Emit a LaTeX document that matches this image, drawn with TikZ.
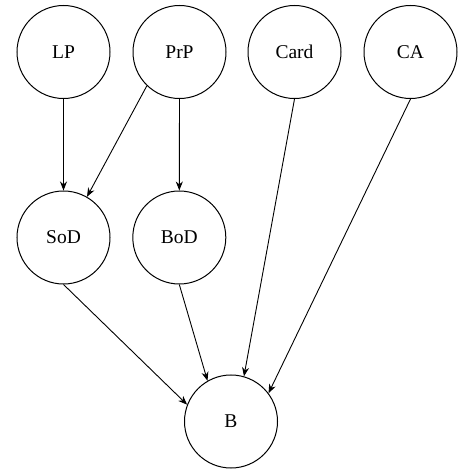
\documentclass[tikz,border=0pt]{standalone}
\usepackage{fontspec}
\setmainfont{Liberation Serif}
\usetikzlibrary{arrows.meta}
\begin{document}
\begin{tikzpicture}[x=1pt,y=1pt,
  var/.style={circle,draw,line width=1pt,minimum size=93pt,inner sep=0pt,font=\fontsize{19.5}{22}\selectfont},
  edge/.style={line width=0.9pt,-{Stealth[length=9pt,width=7pt]}}]
\useasboundingbox (0,0) rectangle (474,474);
\node[var] (LP) at (63.5,422) {LP};
\node[var] (PrP) at (179.5,422) {PrP};
\node[var] (Card) at (294.5,422) {Card};
\node[var] (CA) at (410.5,422) {CA};
\node[var] (SoD) at (63.5,236.5) {SoD};
\node[var] (BoD) at (179.3,236.5) {BoD};
\node[var] (B) at (231,52.5) {B};
\draw[edge] (LP.south) -- (SoD.north);
\draw[edge] (PrP.226) -- (SoD.60);
\draw[edge] (PrP.south) -- (BoD.north);
\draw[edge] (SoD.south) -- (B.159);
\draw[edge] (BoD.south) -- (B.120);
\draw[edge] (Card.south) -- (B.74);
\draw[edge] (CA.south) -- (B.37);
\end{tikzpicture}
\end{document}
